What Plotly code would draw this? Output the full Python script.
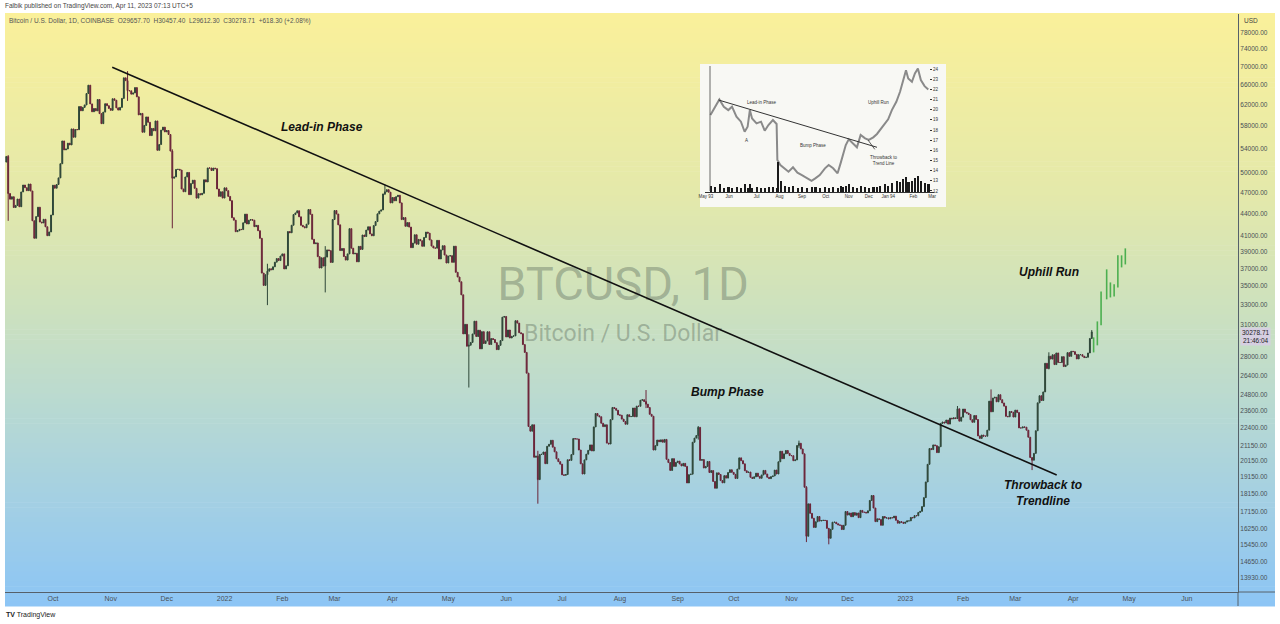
import numpy as np
import pandas as pd
import plotly.graph_objects as go

# ---------------- main BTCUSD daily data (Coinbase) ----------------
start_date = "2021-09-06"
first_open = 51770
sep21 = [52700, 46870, 46050, 46400, 44850, 45150, 46060, 44960, 47110, 48150, 47750, 47300, 48300, 47250,
         43010, 40700, 43580, 44890, 42840, 42720, 43210, 42200, 41030, 41520, 43800]
oct21 = [48120, 47670, 48230, 49250, 51500, 55340, 53800, 53950, 54950, 54660, 57480, 56000, 57370, 57350,
         61690, 60880, 61530, 62010, 64280, 66000, 62210, 60690, 61310, 60860, 63080, 60330, 58450, 60620,
         62250, 61860, 61320]
nov21 = [60960, 63230, 62940, 61440, 61010, 61530, 63300, 67550, 66950, 64880, 64840, 64160, 64410, 65500,
         63610, 60090, 60370, 56890, 58120, 59700, 58700, 56290, 57570, 57150, 58950, 53730, 54720, 57270,
         57810, 56950]
dec21 = [57200, 56480, 53600, 49200, 49400, 50580, 50600, 50480, 47550, 47140, 49390, 50100, 46710, 48370,
         48890, 47650, 46200, 46850, 46690, 46910, 48950, 48620, 50820, 50810, 50410, 50800, 50700, 47550,
         46460, 47130, 46210]
jan22 = [47720, 47300, 46450, 45830, 43430, 43090, 41550, 41680, 41860, 41830, 42740, 43920, 42580, 43080,
         43180, 43090, 42220, 42390, 41680, 40690, 36460, 35070, 36270, 36680, 36960, 36850, 37190, 37740,
         38170, 37930, 38480]
feb22 = [38740, 36940, 37310, 41570, 41410, 42410, 43860, 44090, 44390, 43550, 42400, 42210, 42070, 42550,
         44560, 43900, 40560, 40000, 40100, 38400, 37050, 38260, 37280, 38350, 39230, 39140, 37710, 43180]
mar22 = [44420, 43940, 42460, 39150, 39400, 38420, 37990, 38740, 41950, 39440, 38730, 38810, 37780, 39670,
         39290, 41120, 40920, 41760, 42200, 41260, 41020, 42360, 42900, 43960, 44340, 44510, 46820, 47130,
         47450, 47070, 45510]
apr22 = [46290, 45810, 46410, 46620, 45510, 43170, 43440, 42270, 42760, 42160, 39510, 40080, 41150, 39940,
         40550, 40380, 39680, 40800, 41500, 41360, 40480, 39710, 39470, 39450, 40430, 38120, 39230, 39750,
         38600, 37640]
may22 = [38470, 38520, 37720, 39690, 36550, 36010, 35470, 34040, 30090, 31010, 28940, 29030, 29290, 30080,
         31320, 29840, 30440, 28700, 30300, 29190, 29430, 30290, 29100, 29650, 29560, 29270, 28630, 29020,
         29460, 31720, 31790]
jun22 = [29800, 30460, 29700, 29860, 29900, 31370, 31130, 30200, 30110, 29090, 28380, 26580, 22460, 22130,
         22580, 20380, 20450, 18990, 20560, 20570, 20720, 19970, 21100, 21230, 21500, 21040, 20730, 20280,
         20100, 19940]
jul22 = [19280, 19250, 19300, 20220, 20180, 20550, 21620, 21590, 21590, 20850, 19960, 19330, 20210, 20580,
         20830, 21190, 20790, 22430, 23400, 23230, 23160, 22690, 22450, 22580, 21310, 21250, 22950, 23850,
         23780, 23640, 23300]
aug22 = [23270, 22990, 22820, 22620, 23310, 23170, 23180, 23810, 23160, 23950, 23940, 24400, 24440, 24300,
         24100, 23850, 23340, 23200, 20850, 21140, 21520, 21400, 21530, 21370, 21560, 20250, 20040, 19550,
         20290, 19800, 20050]
sep22 = [20130, 19950, 19830, 19990, 19800, 18790, 19290, 19320, 21370, 21650, 21830, 22400, 20180, 20230,
         19700, 19800, 20110, 19420, 19540, 18880, 18480, 19400, 19300, 18930, 18800, 19230, 19080, 19420,
         19590, 19430]
oct22 = [19310, 19060, 19630, 20340, 20160, 19960, 19530, 19420, 19450, 19130, 19060, 19160, 19380, 19180,
         19070, 19270, 19550, 19330, 19130, 19050, 19170, 19210, 19570, 19330, 20090, 20770, 20290, 20600,
         20820, 20630, 20490]
nov22 = [20480, 20160, 20210, 21150, 21300, 20920, 20600, 18540, 15880, 17590, 17070, 16810, 16330, 16620,
         16900, 16660, 16690, 16700, 16690, 16280, 15780, 16230, 16600, 16600, 16520, 16460, 16440, 16220,
         16440, 17170]
dec22 = [16980, 17090, 16890, 17110, 16970, 17090, 16840, 17230, 17130, 17130, 17090, 17210, 17780, 18060,
         17360, 16630, 16780, 16740, 16440, 16900, 16820, 16830, 16780, 16840, 16830, 16920, 16700, 16550,
         16630, 16600, 16540]
jan23 = [16610, 16670, 16670, 16850, 16830, 16950, 16940, 17120, 17180, 17440, 17940, 18850, 19930, 20950,
         20880, 21190, 21140, 20680, 21070, 22680, 22780, 22710, 22920, 22630, 23060, 23010, 23080, 23030,
         23750, 22840, 23130]
feb23 = [23730, 23490, 23430, 23330, 22940, 22760, 23250, 22960, 21800, 21630, 21860, 21780, 21780, 22200,
         24330, 23530, 24570, 24630, 24280, 24830, 24440, 24190, 23950, 23190, 23160, 23550, 23490, 23140]
mar23 = [23650, 23470, 22360, 22350, 22430, 22410, 22200, 21710, 20360, 20190, 20630, 22160, 24200, 24750,
         24380, 25050, 27420, 26970, 28040, 27790, 28170, 27310, 28330, 27490, 27490, 28000, 27140, 27270,
         28360, 28030, 28480]
apr23 = [28450, 28200, 27800, 28180, 28180, 28040, 27920, 27950, 28330, 29657.70, 30278.71]

# notable wicks: date -> (high, low)
wicks = {
    "2021-09-07": (52920, 43000), "2021-11-10": (69000, 62800), "2021-12-04": (53900, 42000),
    "2022-01-24": (37550, 32950), "2022-02-24": (39700, 34300), "2022-03-28": (48200, 46650),
    "2022-05-12": (30050, 25400), "2022-06-18": (20800, 17600), "2022-08-15": (25200, 23800),
    "2022-09-12": (22490, 21550), "2022-11-05": (21480, 21000), "2022-11-09": (18600, 15590),
    "2022-11-21": (16290, 15480), "2023-01-29": (23960, 23000), "2023-02-16": (25250, 23500),
    "2023-03-10": (20370, 19570), "2023-03-19": (28390, 26900), "2023-04-11": (30457.40, 29612.30),
}

# projected "uphill run" bars (green)
proj_dates = ["2023-04-12", "2023-04-14", "2023-04-16", "2023-04-19", "2023-04-21",
              "2023-04-23", "2023-04-25", "2023-04-27", "2023-04-29"]
proj_high = [29760, 31300, 34410, 36890, 35400, 35190, 38560, 38560, 39420]
proj_low = [28380, 29020, 30910, 33560, 33760, 33870, 34850, 37120, 37470]

# trendline end points
trend_dates = ["2021-11-01 19:00", "2023-03-23 05:00"]
trend_prices = [69840, 19267]

# axes
y_tickvals = [78000, 74000, 70000, 66000, 62000, 58000, 54000, 50000, 47000, 44000, 41000, 39000, 37000,
              35000, 33000, 31000, 28000, 26400, 24800, 23600, 22400, 21150, 20150, 19150, 18150, 17150,
              16250, 15450, 14650, 13930]
x_tickvals = pd.date_range("2021-10-01", "2023-06-01", freq="MS")
x_ticktext = [("2022" if d.year == 2022 else "2023") if d.month == 1 else d.strftime("%b") for d in x_tickvals]

# ---------------- inset (bump-and-run example) ----------------
inset_dates = ["1993-05-07", "1993-05-13", "1993-05-19", "1993-05-25", "1993-05-31", "1993-06-05", "1993-06-11",
               "1993-06-17", "1993-06-22", "1993-06-26", "1993-06-29", "1993-07-02", "1993-07-08", "1993-07-14",
               "1993-07-19", "1993-07-24", "1993-07-30", "1993-08-04", "1993-08-05", "1993-08-09", "1993-08-15",
               "1993-08-20", "1993-08-26", "1993-09-01", "1993-09-07", "1993-09-13", "1993-09-20", "1993-09-25",
               "1993-10-01", "1993-10-08", "1993-10-13", "1993-10-19", "1993-10-25", "1993-10-29", "1993-11-01",
               "1993-11-05", "1993-11-09", "1993-11-14", "1993-11-20", "1993-11-25", "1993-12-01", "1993-12-06",
               "1993-12-12", "1993-12-17", "1993-12-21", "1993-12-27", "1994-01-01", "1994-01-06", "1994-01-12",
               "1994-01-17", "1994-01-21", "1994-01-25", "1994-01-28", "1994-02-02", "1994-02-06", "1994-02-10",
               "1994-02-14", "1994-02-19", "1994-02-24"]
inset_price = [19.47, 20.29, 21.0, 20.29, 19.96, 20.3, 19.31, 18.82, 17.83, 18.32, 19.96, 19.14, 18.65, 18.82,
               17.93, 18.49, 18.98, 18.59, 15.05, 14.56, 14.23, 13.9, 14.33, 13.8, 13.57, 13.34, 13.0, 13.24,
               13.57, 14.23, 14.56, 14.23, 13.74, 14.72, 15.54, 16.52, 17.08, 16.69, 16.3, 17.51, 17.18, 17.02,
               17.28, 17.61, 18.0, 18.49, 19.05, 19.96, 20.78, 21.76, 22.74, 23.89, 23.07, 22.74, 23.56, 24.05,
               22.91, 22.32, 21.99]
inset_volume = [5, 4, 6, 3, 4, 3, 4, 3, 6, 3, 6, 3, 4, 3, 3, 4, 4, 3, 24, 9, 5, 4, 5, 3, 4, 3, 4, 4, 3, 4,
                3, 4, 3, 5, 4, 5, 6, 4, 3, 5, 4, 3, 4, 4, 5, 6, 5, 7, 9, 8, 10, 12, 8, 9, 11, 13, 9, 7, 6]
inset_trend_dates = ["1993-05-18", "1993-12-17"]
inset_trend_prices = [20.95, 16.3]
inset_pointer_dates = ["1993-12-05", "1993-12-14"]
inset_pointer_prices = [17.01, 16.1]
inset_tickvals = ["1993-05-01", "1993-06-01", "1993-07-08", "1993-08-08", "1993-09-07", "1993-10-09",
                  "1993-11-09", "1993-12-06", "1994-01-01", "1994-02-04", "1994-03-01"]
inset_ticktext = ["May 93", "Jun", "Jul", "Aug", "Sep", "Oct", "Nov", "Dec", "Jan 94", "Feb", "Mar"]
inset_yticks = list(range(12, 25))

# ---------------- build candles ----------------
closes = (sep21 + oct21 + nov21 + dec21 + jan22 + feb22 + mar22 + apr22 + may22 + jun22 + jul22 + aug22 +
          sep22 + oct22 + nov22 + dec22 + jan23 + feb23 + mar23 + apr23)
dates = pd.date_range(start_date, periods=len(closes), freq="D")
opens = [first_open] + closes[:-1]
highs = [max(o, c) for o, c in zip(opens, closes)]
lows = [min(o, c) for o, c in zip(opens, closes)]
date_index = {d.strftime("%Y-%m-%d"): i for i, d in enumerate(dates)}
for d, (h, l) in wicks.items():
    i = date_index[d]
    highs[i] = max(highs[i], h)
    lows[i] = min(lows[i], l)

W, H = 1280, 624
ML, MR, MT, MB = 5, 42, 14, 32
PW, PH = W - ML - MR, H - MT - MB


def px(x):
    return (x - ML) / PW


def py(y):
    return (H - MB - y) / PH


fig = go.Figure()

fig.add_trace(go.Candlestick(
    x=dates, open=opens, high=highs, low=lows, close=closes,
    increasing=dict(line=dict(color="#2e4638", width=1), fillcolor="#2e4638"),
    decreasing=dict(line=dict(color="#6a2438", width=1), fillcolor="#7a2a42"),
    whiskerwidth=0, showlegend=False, hoverinfo="skip"))

fig.add_trace(go.Scatter(x=trend_dates, y=trend_prices, mode="lines",
                         line=dict(color="#111111", width=1.6), showlegend=False, hoverinfo="skip"))

px_x, px_y = [], []
for d, h, l in zip(proj_dates, proj_high, proj_low):
    px_x += [d, d, None]
    px_y += [l, h, None]
fig.add_trace(go.Scatter(x=px_x, y=px_y, mode="lines", line=dict(color="#4caf50", width=1.6),
                         showlegend=False, hoverinfo="skip"))

# inset traces
fig.add_trace(go.Bar(x=inset_dates, y=inset_volume, xaxis="x2", yaxis="y3", marker_color="#1a1a1a",
                     width=2.2 * 86400000, showlegend=False, hoverinfo="skip"))
fig.add_trace(go.Scatter(x=inset_dates, y=inset_price, xaxis="x2", yaxis="y2", mode="lines",
                         line=dict(color="#8a8a8a", width=2), showlegend=False, hoverinfo="skip"))
fig.add_trace(go.Scatter(x=inset_trend_dates, y=inset_trend_prices, xaxis="x2", yaxis="y2", mode="lines",
                         line=dict(color="#333333", width=1), showlegend=False, hoverinfo="skip"))
fig.add_trace(go.Scatter(x=inset_pointer_dates, y=inset_pointer_prices, xaxis="x2", yaxis="y2", mode="lines",
                         line=dict(color="#333333", width=0.8), showlegend=False, hoverinfo="skip"))

# ---------------- background gradient ----------------
stops = [(0.0, (250, 240, 154)), (0.3, (228, 233, 170)), (0.5, (205, 225, 190)), (0.65, (186, 218, 208)),
         (0.85, (160, 206, 230)), (1.0, (140, 197, 245))]


def grad(t):
    for (t0, c0), (t1, c1) in zip(stops[:-1], stops[1:]):
        if t0 <= t <= t1:
            f = (t - t0) / (t1 - t0)
            return "rgb(%d,%d,%d)" % tuple(round(a + (b - a) * f) for a, b in zip(c0, c1))
    return "rgb(%d,%d,%d)" % stops[-1][1]


shapes = []
top, bot, n = 13, 606, 120
for k in range(n):
    y0 = top + (bot - top) * k / n
    y1 = top + (bot - top) * (k + 1) / n + 0.6
    shapes.append(dict(type="rect", xref="paper", yref="paper", x0=px(5), x1=px(1275), y0=py(y1), y1=py(y0),
                       fillcolor=grad((k + 0.5) / n), line=dict(width=0), layer="below"))

# inset white card
shapes.append(dict(type="rect", xref="paper", yref="paper", x0=px(700), x1=px(946), y0=py(207), y1=py(64),
                   fillcolor="#f8f8f4", line=dict(width=0), layer="below"))
shapes.append(dict(type="line", xref="paper", yref="paper", x0=px(710), x1=px(710), y0=py(191), y1=py(66),
                   line=dict(color="#444444", width=0.8), layer="above"))
# extended axis lines
shapes.append(dict(type="line", xref="paper", yref="paper", x0=1, x1=1, y0=py(606), y1=0,
                   line=dict(color="#55606a", width=1)))
shapes.append(dict(type="line", xref="paper", yref="paper", x0=1, x1=px(1275), y0=0, y1=0,
                   line=dict(color="#55606a", width=1)))
# watermark (below candles)
shapes.append(dict(type="rect", xref="paper", yref="paper", x0=px(420), x1=px(826), y0=py(305), y1=py(255),
                   line=dict(width=0), fillcolor="rgba(0,0,0,0)", layer="below",
                   label=dict(text="BTCUSD, 1D", textposition="middle center",
                              font=dict(family="Roboto", size=47, color="rgba(95,110,95,0.42)"))))
shapes.append(dict(type="rect", xref="paper", yref="paper", x0=px(450), x1=px(796), y0=py(345), y1=py(317),
                   line=dict(width=0), fillcolor="rgba(0,0,0,0)", layer="below",
                   label=dict(text="Bitcoin / U.S. Dollar", textposition="middle center",
                              font=dict(family="Roboto", size=23, color="rgba(95,110,95,0.42)"))))

# ---------------- annotations ----------------
ann = []
lab_font = dict(family="Liberation Sans", size=12, color="#111111")
for txt, x, y in [("Lead-in Phase", 322, 127), ("Bump Phase", 727, 392), ("Uphill Run", 1049, 272),
                  ("Throwback to<br>Trendline", 1043, 493)]:
    ann.append(dict(text="<b><i>%s</i></b>" % txt, xref="paper", yref="paper", x=px(x), y=py(y),
                    showarrow=False, font=lab_font, xanchor="center", yanchor="middle"))

small = dict(family="Liberation Sans", size=6.5, color="#444444")
ann.append(dict(text="Falbik published on TradingView.com, Apr 11, 2023 07:13 UTC+5", xref="paper", yref="paper",
                x=px(3), y=py(6), xanchor="left", yanchor="middle", showarrow=False, font=small))
ann.append(dict(text="Bitcoin / U.S. Dollar, 1D, COINBASE&nbsp;&nbsp;O29657.70&nbsp;&nbsp;H30457.40&nbsp;&nbsp;"
                     "L29612.30&nbsp;&nbsp;C30278.71&nbsp;&nbsp;+618.30 (+2.08%)",
                xref="paper", yref="paper", x=px(7), y=py(21), xanchor="left", yanchor="middle",
                showarrow=False, font=dict(family="Liberation Sans", size=6.5, color="#555555")))
ann.append(dict(text="USD", xref="paper", yref="paper", x=px(1242), y=py(20), xanchor="left", yanchor="middle",
                showarrow=False, font=small))
ann.append(dict(text="%.2f<br>21:46:04" % closes[-1], xref="paper", yref="y", x=px(1240),
                y=np.log10(closes[-1]), xanchor="left", yanchor="top", yshift=5, showarrow=False,
                bgcolor="#d6cfe1", borderpad=1,
                font=dict(family="Liberation Sans", size=6.5, color="#222222")))
ann.append(dict(text="<b>TV</b> TradingView", xref="paper", yref="paper", x=px(4), y=py(615), xanchor="left",
                yanchor="middle", showarrow=False, font=dict(family="Liberation Sans", size=7, color="#222")))
# inset texts
tiny = dict(family="Liberation Sans", size=4.5, color="#333333")
for txt, x, y in [("Lead-in Phase", 762, 102), ("A", 746, 140), ("Bump Phase", 813, 146),
                  ("Uphill Run", 879, 102), ("Throwback to<br>Trend Line", 884, 160)]:
    ann.append(dict(text=txt, xref="paper", yref="paper", x=px(x), y=py(y), showarrow=False, font=tiny,
                    xanchor="center", yanchor="middle"))

fig.update_layout(
    template="none",
    width=W, height=H, margin=dict(l=ML, r=MR, t=MT, b=MB, pad=0, autoexpand=False),
    paper_bgcolor="white", plot_bgcolor="rgba(0,0,0,0)",
    shapes=shapes, annotations=ann, showlegend=False, bargap=0,
    xaxis=dict(type="date", range=["2021-09-05 07:00", "2023-06-28 10:00"], showgrid=False, zeroline=False,
               rangeslider=dict(visible=False), showline=True, linecolor="#55606a", linewidth=1,
               tickvals=list(x_tickvals), ticktext=x_ticktext, ticks="", automargin=False,
               tickfont=dict(family="Liberation Sans", size=7, color="#4a4f55")),
    yaxis=dict(type="log", range=[np.log10(13316), np.log10(82640)], side="right", showgrid=False,
               zeroline=False, showline=True, linecolor="#55606a", linewidth=1, automargin=False,
               tickvals=y_tickvals, ticktext=["%.2f" % v for v in y_tickvals], ticks="",
               tickfont=dict(family="Liberation Sans", size=6.5, color="#4a4f55")),
    xaxis2=dict(type="date", domain=[px(704.5), px(933.5)], range=["1993-04-29", "1994-03-03"], anchor="y2",
                showgrid=False, zeroline=False, showline=True, linecolor="#333", linewidth=0.8,
                automargin=False, tickvals=inset_tickvals, ticktext=inset_ticktext, ticks="", tickfont=tiny),
    yaxis2=dict(domain=[py(192), py(66)], range=[11.9, 24.3], anchor="free", position=px(929), side="right",
                showgrid=False, zeroline=False, showline=False, tickvals=inset_yticks, ticks="outside",
                automargin=False, ticklen=2, tickwidth=0.6, tickcolor="#333", tickfont=tiny),
    yaxis3=dict(domain=[py(192), py(66)], range=[0, 100], overlaying="y2", anchor="x2", visible=False,
                automargin=False),
)

fig.write_html("out.html", config={"displayModeBar": False},
               post_script="document.body.style.margin='0';document.body.style.padding='0';"
                           "document.body.style.overflow='hidden';")
